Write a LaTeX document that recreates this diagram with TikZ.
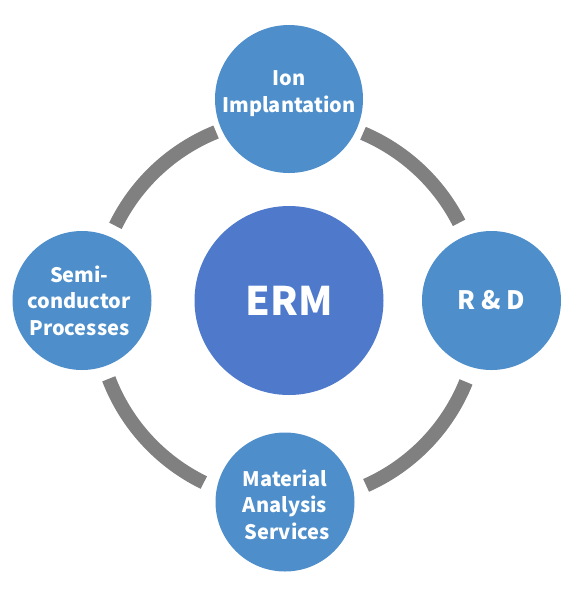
\documentclass[tikz,border=0pt]{standalone}
\usepackage{fontspec}
\setmainfont{Noto Sans CJK KR}
\usepackage{tikz}
\usepackage[dvipsnames]{xcolor}

\definecolor{outerBlue}{RGB}{78,143,203}
\definecolor{ermBlue}{RGB}{79,122,204}
\definecolor{ringGray}{RGB}{128,128,128}

\begin{document}
\begin{tikzpicture}[x=0.75pt,y=0.75pt,yscale=-1,xscale=1,
		field/.style={circle,fill=outerBlue,draw=none,inner sep=0pt,minimum size=104.25pt},
		fieldtext/.style={text=white,align=center,font=\bfseries\fontsize{15}{20}\selectfont},
		ringarc/.style={draw=ringGray,line width=10.5pt}]
			\useasboundingbox (0,0) rectangle (574,612);

			%Ring centre
			\coordinate (ring) at (288,310);

			%Curve Lines
			\draw [ringarc] ([shift={(-27:192)}]ring) arc [start angle=-27, end angle=-67, radius=192];
			\draw [ringarc] ([shift={(-112:192)}]ring) arc [start angle=-112, end angle=-154, radius=192];
			\draw [ringarc] ([shift={(-201:192)}]ring) arc [start angle=-201, end angle=-244, radius=192];
			\draw [ringarc] ([shift={(-294:192)}]ring) arc [start angle=-294, end angle=-338, radius=192];

			%Circles
			\node [field, minimum size=111pt] (ion) at (289,99) {};
			\node [field] (rnd) at (491.5,300.5) {};
			\node [field] (mat) at (285,502) {};
			\node [field] (semi) at (82,300.5) {};
			\node [circle,fill=ermBlue,inner sep=0pt,minimum size=141.75pt] (erm) at (289,300.5) {};

			% Text Node
			\node [fieldtext] (ionText) at ([yshift=-4]ion.center) {Ion\\Implantation};
			% Text Node
			\node [fieldtext, font=\bfseries\fontsize{19}{24}\selectfont] (rndText) at (rnd.center) {R \& D};
			% Text Node
			\node [fieldtext] (matText) at ([yshift=2]mat.center) {Material\\Analysis\\\ Services};
			% Text Node
			\node [fieldtext] (semiText) at ([xshift=-2]semi.center) {Semi-\\conductor\\Processes};
			% Text Node
			\node [fieldtext, font=\bfseries\fontsize{29.5}{36}\selectfont] (ermText) at (erm.center) {ERM};
		\end{tikzpicture}
\end{document}
